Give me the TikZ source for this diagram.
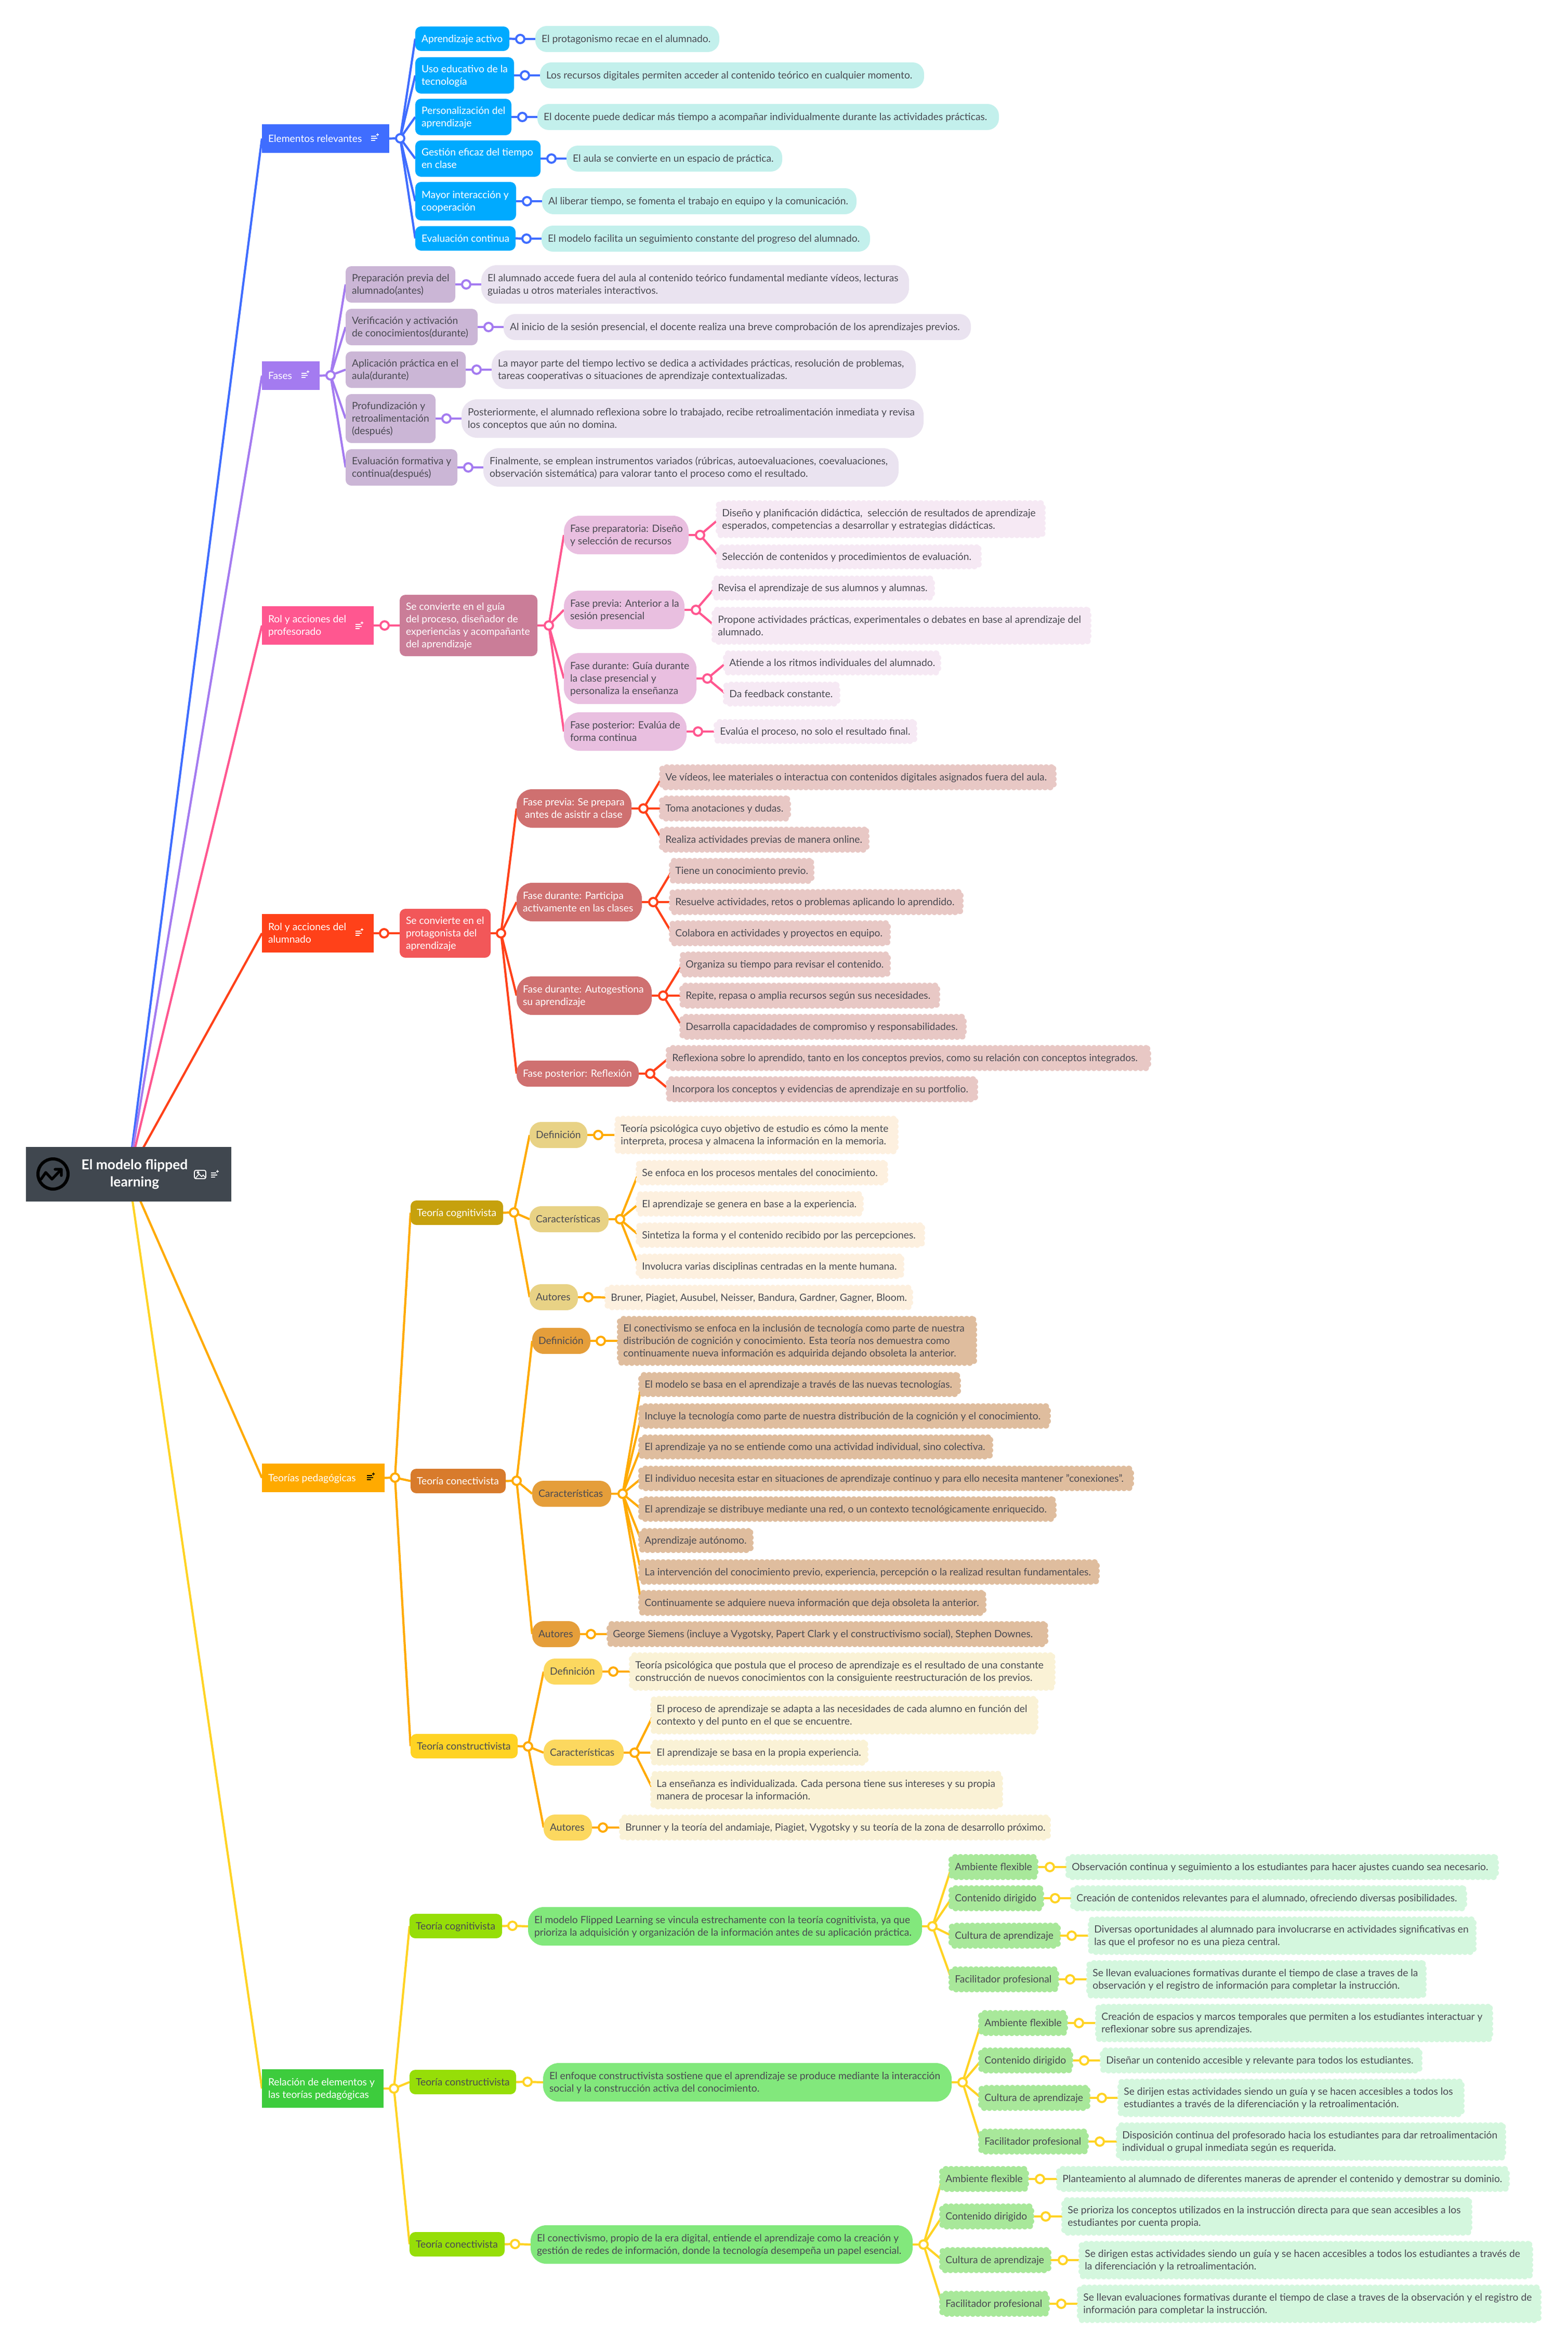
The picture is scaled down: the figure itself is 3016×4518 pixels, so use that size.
\documentclass[tikz,border=0pt]{standalone}
\usepackage{fontspec}
\setmainfont{Lato}
\usetikzlibrary{shapes.geometric}
\pgfdeclarelayer{bg}
\pgfsetlayers{bg,main}
\definecolor{tx}{HTML}{4A4A52}
\definecolor{cBlue}{HTML}{3F6DFF}\definecolor{cSky}{HTML}{00AAFF}\definecolor{cTeal}{HTML}{C3F0EC}
\definecolor{cPur}{HTML}{A47BF0}\definecolor{cPur2}{HTML}{CBB6D6}\definecolor{cPur3}{HTML}{EAE3F0}
\definecolor{cPink}{HTML}{FF5790}\definecolor{cPink2}{HTML}{CA7D98}\definecolor{cPink3}{HTML}{E9BFE0}\definecolor{cPink4}{HTML}{F6E9F4}
\definecolor{cRed}{HTML}{FF4119}\definecolor{cRed2}{HTML}{F25759}\definecolor{cRed3}{HTML}{CF7070}\definecolor{cRed4}{HTML}{E8C8C5}
\definecolor{cOr}{HTML}{FFAA00}\definecolor{cGold}{HTML}{C6A10D}\definecolor{cGold2}{HTML}{E8D285}\definecolor{cGold3}{HTML}{FDF0DF}
\definecolor{cBro}{HTML}{D87B2C}\definecolor{cBro2}{HTML}{E59E3A}\definecolor{cBro3}{HTML}{DFBD9E}
\definecolor{cYel}{HTML}{FFD324}\definecolor{cYel2}{HTML}{FCD85F}\definecolor{cYel3}{HTML}{FAF2D6}
\definecolor{cGrn}{HTML}{3DCC3D}\definecolor{cLime}{HTML}{96DE08}\definecolor{cGrn2}{HTML}{82E87C}\definecolor{cGrn3}{HTML}{A8E89A}\definecolor{cGrn4}{HTML}{D4F7DE}
\definecolor{cRoot}{HTML}{40474F}
\newcommand\nf{\fontsize{9.65}{12}\selectfont}
\def\mnpad{6}
\newcommand\mn[7]{%
  \pgfmathsetmacro\mnw{(#5-#3)*0.5}\pgfmathsetmacro\mnh{(#6-#4)*0.5}%
  \node[base,#2,minimum width=\mnw pt,minimum height=\mnh pt] (#1) at ({(#3+#5)/2},{(#4+#6)/2})
    {\makebox[\mnw pt][l]{\hspace{\mnpad pt}\raisebox{-3.4pt}[0pt][0pt]{\begin{tabular}[c]{@{}l@{}}#7\end{tabular}}}};}
\newcommand\sn[7]{{\def\mnpad{3.2}\pgfmathsetmacro\xa{#3+6}\pgfmathsetmacro\ya{#4+6}\pgfmathsetmacro\xb{#5-6}\pgfmathsetmacro\yb{#6-6}%
  \mn{#1}{scal=#2}{\xa}{\ya}{\xb}{\yb}{#7}}}
\newcommand\jn[4]{\node[jct,draw=#2] (#1) at (#3,#4) {};}
\newcommand\fan[4]{\draw[lk,draw=#1] (#2.east) -- (#3.center);
  \foreach \c in {#4} {\draw[lk,draw=#1] (#3.center) -- (\c.west);}}
\newcommand\lico[3]{\draw[#3,line width=0.9pt] (#1-7,#2-2) -- (#1+3,#2-2) (#1-7,#2+2) -- (#1+5,#2+2) (#1-7,#2+6) -- (#1+1,#2+6) (#1+3,#2-5) -- (#1+8,#2-5) (#1+5.5,#2-8) -- (#1+5.5,#2-2);}
\tikzset{
  base/.style={inner sep=0pt,outer sep=0pt,font=\nf,text=tx,rectangle},
  box/.style={fill=#1,text=white},
  soft/.style={fill=#1,rounded corners=5.5pt},
  pill/.style={fill=#1,rounded corners=11pt},
  big/.style={fill=#1,rounded corners=15pt},
  scal/.style={fill=#1,draw=#1,rounded corners=2pt,line width=6pt,dash pattern=on 0pt off 5pt,line cap=round},
  jct/.style={circle,inner sep=0pt,outer sep=0pt,minimum size=8pt,fill=white,line width=2pt},
  lk/.style={line width=2.1pt},
}
\begin{document}
\begin{tikzpicture}[x=0.5pt,y=-0.5pt]
\useasboundingbox (0,0) rectangle (3016,4518);
% root
\node[rectangle,fill=cRoot,inner sep=0pt,outer sep=0pt,minimum width=197.5pt,minimum height=52.5pt] (root) at (247.5,2258.5) {};
\node[text=white,inner sep=0pt,align=center,font=\fontsize{13.2}{16.5}\selectfont\bfseries] (roottxt) at (259,2259) {El modelo flipped\\learning};
\node[circle,draw=black,line width=3pt,minimum size=29pt,inner sep=0pt] (rooticon) at (102,2258) {};
\draw[black,line width=2.6pt,line cap=round,line join=round] (79,2268) -- (88,2255) -- (100,2268) -- (118,2249) (106,2249) -- (118,2249) -- (118,2261);
\draw[white,line width=0.9pt,rounded corners=1.5pt] (374,2251) rectangle (396,2267);
\draw[white,line width=0.8pt] (376,2266) -- (383,2258) -- (388,2263) -- (391,2260) -- (395,2265);
\fill[white] (381,2255) circle (2.5);
\lico{413}{2258}{white}

% Elementos relevantes
\mn{el}{box=cBlue}{504}{239}{749}{294}{Elementos relevantes}\lico{721}{264}{white}
\jn{jel}{cBlue}{770}{266}
\mn{el1}{soft=cSky,text=white}{799}{51}{980}{98}{Aprendizaje activo}
\mn{el2}{soft=cSky,text=white}{799}{110}{989}{180}{Uso educativo de la\\tecnología}
\mn{el3}{soft=cSky,text=white}{799}{190}{984}{260}{Personalización del\\aprendizaje}
\mn{el4}{soft=cSky,text=white}{799}{270}{1040}{340}{Gestión eficaz del tiempo\\en clase}
\mn{el5}{soft=cSky,text=white}{799}{350}{993}{424}{Mayor interacción y\\cooperación}
\mn{el6}{soft=cSky,text=white}{799}{435}{992}{482}{Evaluación continua}
\jn{jel1}{cBlue}{1001}{75}\jn{jel2}{cBlue}{1010}{145}\jn{jel3}{cBlue}{1005}{225}\jn{jel4}{cBlue}{1061}{305}\jn{jel5}{cBlue}{1014}{387}\jn{jel6}{cBlue}{1013}{459}
\mn{tl1}{pill=cTeal}{1030}{50}{1384}{100}{El protagonismo recae en el alumnado.}
\mn{tl2}{pill=cTeal}{1039}{120}{1778}{170}{Los recursos digitales permiten acceder al contenido teórico en cualquier momento.}
\mn{tl3}{pill=cTeal}{1034}{200}{1922}{250}{El docente puede dedicar más tiempo a acompañar individualmente durante las actividades prácticas.}
\mn{tl4}{pill=cTeal}{1090}{280}{1505}{330}{El aula se convierte en un espacio de práctica.}
\mn{tl5}{pill=cTeal}{1043}{362}{1648}{412}{Al liberar tiempo, se fomenta el trabajo en equipo y la comunicación.}
\mn{tl6}{pill=cTeal}{1042}{434}{1674}{484}{El modelo facilita un seguimiento constante del progreso del alumnado.}

% Fases
\mn{fa}{box=cPur}{504}{695}{615}{750}{Fases}\lico{587}{720}{white}
\jn{jfa}{cPur}{636}{722}
\mn{fa1}{soft=cPur2}{665}{512}{876}{582}{Preparación previa del\\alumnado(antes)}
\mn{fa2}{soft=cPur2}{665}{594}{919}{664}{Verificación y activación\\de conocimientos(durante)}
\mn{fa3}{soft=cPur2}{665}{676}{896}{746}{Aplicación práctica en el\\aula(durante)}
\mn{fa4}{soft=cPur2}{665}{758}{838}{852}{Profundización y\\retroalimentación\\(después)}
\mn{fa5}{soft=cPur2}{665}{864}{880}{934}{Evaluación formativa y\\continua(después)}
\jn{jfa1}{cPur}{897}{547}\jn{jfa2}{cPur}{940}{629}\jn{jfa3}{cPur}{917}{711}\jn{jfa4}{cPur}{859}{805}\jn{jfa5}{cPur}{901}{899}
\mn{fl1}{big=cPur3}{926}{510}{1749}{584}{El alumnado accede fuera del aula al contenido teórico fundamental mediante vídeos, lecturas\\guiadas u otros materiales interactivos.}
\mn{fl2}{pill=cPur3}{969}{604}{1868}{654}{Al inicio de la sesión presencial, el docente realiza una breve comprobación de los aprendizajes previos.}
\mn{fl3}{big=cPur3}{946}{674}{1762}{748}{La mayor parte del tiempo lectivo se dedica a actividades prácticas, resolución de problemas,\\tareas cooperativas o situaciones de aprendizaje contextualizadas.}
\mn{fl4}{big=cPur3}{888}{768}{1777}{842}{Posteriormente, el alumnado reflexiona sobre lo trabajado, recibe retroalimentación inmediata y revisa\\los conceptos que aún no domina.}
\mn{fl5}{big=cPur3}{930}{862}{1729}{936}{Finalmente, se emplean instrumentos variados (rúbricas, autoevaluaciones, coevaluaciones,\\observación sistemática) para valorar tanto el proceso como el resultado.}

% Rol profesorado
\mn{rp}{box=cPink}{504}{1166}{719}{1240}{Rol y acciones del\\profesorado}\lico{691}{1203}{white}
\jn{jrp}{cPink}{740}{1203}
\mn{rp0}{soft=cPink2,text=white}{769}{1144}{1034}{1262}{Se convierte en el guía\\del proceso, diseñador de\\experiencias y acompañante\\del aprendizaje}
\jn{jrp0}{cPink}{1056}{1203}
\mn{rp1}{big=cPink3}{1085}{992}{1325}{1066}{Fase preparatoria: Diseño\\y selección de recursos}
\mn{rp2}{big=cPink3}{1085}{1136}{1317}{1210}{Fase previa: Anterior a la\\sesión presencial}
\mn{rp3}{big=cPink3}{1085}{1256}{1340}{1354}{Fase durante: Guía durante\\la clase presencial y\\personaliza la enseñanza}
\mn{rp4}{big=cPink3}{1085}{1370}{1321}{1444}{Fase posterior: Evalúa de\\forma continua}
\jn{jrp1}{cPink}{1347}{1029}\jn{jrp2}{cPink}{1339}{1173}\jn{jrp3}{cPink}{1361}{1305}\jn{jrp4}{cPink}{1343}{1407}
\sn{pl1}{cPink4}{1377}{962}{2012}{1035}{Diseño y planificación didáctica,~ selección de resultados de aprendizaje\\esperados, competencias a desarrollar y estrategias didácticas.}
\sn{pl2}{cPink4}{1377}{1047}{1889}{1095}{Selección de contenidos y procedimientos de evaluación.}
\sn{pl3}{cPink4}{1369}{1107}{1799}{1155}{Revisa el aprendizaje de sus alumnos y alumnas.}
\sn{pl4}{cPink4}{1369}{1167}{2100}{1240}{Propone actividades prácticas, experimentales o debates en base al aprendizaje del\\alumnado.}
\sn{pl5}{cPink4}{1391}{1251}{1811}{1299}{Atiende a los ritmos individuales del alumnado.}
\sn{pl6}{cPink4}{1391}{1311}{1617}{1359}{Da feedback constante.}
\sn{pl7}{cPink4}{1373}{1383}{1765}{1431}{Evalúa el proceso, no solo el resultado final.}

% Rol alumnado
\mn{ra}{box=cRed}{504}{1758}{719}{1832}{Rol y acciones del\\alumnado}\lico{691}{1793}{white}
\jn{jra}{cRed}{739}{1795}
\mn{ra0}{soft=cRed2,text=white}{769}{1748}{944}{1842}{Se convierte en el\\protagonista del\\aprendizaje}
\jn{jra0}{cRed}{964}{1795}
\mn{ra1}{big=cRed3,text=white}{994}{1518}{1215}{1592}{Fase previa: Se prepara\\\hspace*{2pt}antes de asistir a clase}
\mn{ra2}{big=cRed3,text=white}{994}{1698}{1235}{1772}{Fase durante: Participa\\activamente en las clases}
\mn{ra3}{big=cRed3,text=white}{994}{1878}{1254}{1952}{Fase durante: Autogestiona\\su aprendizaje}
\mn{ra4}{pill=cRed3,text=white}{994}{2040}{1229}{2090}{Fase posterior: Reflexión}
\jn{jra1}{cRed}{1238}{1555}\jn{jra2}{cRed}{1257}{1735}\jn{jra3}{cRed}{1276}{1915}\jn{jra4}{cRed}{1251}{2065}
\sn{al1}{cRed4}{1268}{1470}{2033}{1520}{Ve vídeos, lee materiales o interactua con contenidos digitales asignados fuera del aula.}
\sn{al2}{cRed4}{1268}{1530}{1522}{1580}{Toma anotaciones y dudas.}
\sn{al3}{cRed4}{1268}{1590}{1673}{1640}{Realiza actividades previas de manera online.}
\sn{al4}{cRed4}{1287}{1650}{1567}{1700}{Tiene un conocimiento previo.}
\sn{al5}{cRed4}{1287}{1710}{1854}{1760}{Resuelve actividades, retos o problemas aplicando lo aprendido.}
\sn{al6}{cRed4}{1287}{1770}{1714}{1820}{Colabora en actividades y proyectos en equipo.}
\sn{al7}{cRed4}{1307}{1830}{1714}{1880}{Organiza su tiempo para revisar el contenido.}
\sn{al8}{cRed4}{1307}{1890}{1809}{1940}{Repite, repasa o amplia recursos según sus necesidades.}
\sn{al9}{cRed4}{1307}{1950}{1860}{2000}{Desarrolla capacidadades de compromiso y responsabilidades.}
\sn{al10}{cRed4}{1281}{2010}{2215}{2060}{Reflexiona sobre lo aprendido, tanto en los conceptos previos, como su relación con conceptos integrados.}
\sn{al11}{cRed4}{1281}{2070}{1882}{2120}{Incorpora los conceptos y evidencias de aprendizaje en su portfolio.}

% Teorías pedagógicas
\mn{te}{box=cOr}{504}{2815}{740}{2870}{Teorías pedagógicas}\lico{713}{2840}{black}
\jn{jte}{cOr}{760}{2842}
\mn{tc}{soft=cGold,text=white}{790}{2309}{968}{2356}{Teoría cognitivista}
\jn{jtc}{cOr}{989}{2332}
\mn{tc1}{pill=cGold2}{1019}{2158}{1130}{2208}{Definición}
\mn{tc2}{pill=cGold2}{1019}{2320}{1171}{2370}{Características}
\mn{tc3}{pill=cGold2}{1019}{2470}{1112}{2520}{Autores}
\jn{jtc1}{cOr}{1151}{2183}\jn{jtc2}{cOr}{1193}{2345}\jn{jtc3}{cOr}{1132}{2495}
\sn{gl1}{cGold3}{1182}{2146}{1729}{2220}{Teoría psicológica cuyo objetivo de estudio es cómo la mente\\interpreta, procesa y almacena la información en la memoria.}
\sn{gl2}{cGold3}{1223}{2231}{1709}{2280}{Se enfoca en los procesos mentales del conocimiento.}
\sn{gl3}{cGold3}{1223}{2291}{1662}{2340}{El aprendizaje se genera en base a la experiencia.}
\sn{gl4}{cGold3}{1223}{2351}{1780}{2400}{Sintetiza la forma y el contenido recibido por las percepciones.}
\sn{gl5}{cGold3}{1223}{2411}{1740}{2460}{Involucra varias disciplinas centradas en la mente humana.}
\sn{gl6}{cGold3}{1163}{2471}{1757}{2520}{Bruner, Piagiet, Ausubel, Neisser, Bandura, Gardner, Gagner, Bloom.}

\mn{tn}{soft=cBro,text=white}{790}{2825}{973}{2872}{Teoría conectivista}
\jn{jtn}{cOr}{994}{2848}
\mn{tn1}{pill=cBro2}{1024}{2554}{1136}{2604}{Definición}
\mn{tn2}{pill=cBro2}{1024}{2848}{1176}{2898}{Características}
\mn{tn3}{pill=cBro2}{1024}{3118}{1116}{3168}{Autores}
\jn{jtn1}{cOr}{1156}{2579}\jn{jtn2}{cOr}{1198}{2873}\jn{jtn3}{cOr}{1137}{3143}
\sn{bl1}{cBro3}{1187}{2531}{1880}{2627}{El conectivismo se enfoca en la inclusión de tecnología como parte de nuestra\\distribución de cognición y conocimiento. Esta teoría nos demuestra como\\continuamente nueva información es adquirida dejando obsoleta la anterior.}
\sn{bl2}{cBro3}{1228}{2639}{1849}{2687}{El modelo se basa en el aprendizaje a través de las nuevas tecnologías.}
\sn{bl3}{cBro3}{1228}{2699}{2022}{2748}{Incluye la tecnología como parte de nuestra distribución de la cognición y el conocimiento.}
\sn{bl4}{cBro3}{1228}{2759}{1911}{2807}{El aprendizaje ya no se entiende como una actividad individual, sino colectiva.}
\sn{bl5}{cBro3}{1228}{2819}{2182}{2868}{El individuo necesita estar en situaciones de aprendizaje continuo y para ello necesita mantener "conexiones".}
\sn{bl6}{cBro3}{1228}{2878}{2033}{2927}{El aprendizaje se distribuye mediante una red, o un contexto tecnológicamente enriquecido.}
\sn{bl7}{cBro3}{1228}{2939}{1450}{2987}{Aprendizaje autónomo.}
\sn{bl8}{cBro3}{1228}{2999}{2116}{3048}{La intervención del conocimiento previo, experiencia, percepción o la realizad resultan fundamentales.}
\sn{bl9}{cBro3}{1228}{3058}{1898}{3108}{Continuamente se adquiere nueva información que deja obsoleta la anterior.}
\sn{bl10}{cBro3}{1167}{3118}{2017}{3168}{George Siemens (incluye a Vygotsky, Papert Clark y el constructivismo social), Stephen Downes.}

\mn{tk}{soft=cYel}{790}{3335}{996}{3382}{Teoría constructivista}
\jn{jtk}{cOr}{1016}{3359}
\mn{tk1}{pill=cYel2}{1046}{3190}{1159}{3240}{Definición}
\mn{tk2}{pill=cYel2}{1046}{3346}{1200}{3396}{Características}
\mn{tk3}{pill=cYel2}{1046}{3490}{1139}{3540}{Autores}
\jn{jtk1}{cOr}{1180}{3215}\jn{jtk2}{cOr}{1221}{3371}\jn{jtk3}{cOr}{1160}{3515}
\sn{yl1}{cYel3}{1210}{3178}{2031}{3252}{Teoría psicológica que postula que el proceso de aprendizaje es el resultado de una constante\\construcción de nuevos conocimientos con la consiguiente reestructuración de los previos.}
\sn{yl2}{cYel3}{1251}{3262}{1998}{3336}{El proceso de aprendizaje se adapta a las necesidades de cada alumno en función del\\contexto y del punto en el que se encuentre.}
\sn{yl3}{cYel3}{1251}{3346}{1671}{3396}{El aprendizaje se basa en la propia experiencia.}
\sn{yl4}{cYel3}{1251}{3406}{1930}{3480}{La enseñanza es individualizada. Cada persona tiene sus intereses y su propia\\manera de procesar la información.}
\sn{yl5}{cYel3}{1191}{3490}{2022}{3540}{Brunner y la teoría del andamiaje, Piagiet, Vygotsky y su teoría de la zona de desarrollo próximo.}

% Relación
\mn{re}{box=cGrn}{504}{3980}{738}{4054}{Relación de elementos y\\las teorías pedagógicas}
\jn{jre}{cYel}{758}{4017}
\mn{r1}{soft=cLime}{788}{3681}{966}{3728}{Teoría cognitivista}
\mn{r2}{soft=cLime}{788}{3981}{993}{4028}{Teoría constructivista}
\mn{r3}{soft=cLime}{788}{4293}{971}{4340}{Teoría conectivista}
\jn{jr1}{cYel}{986}{3704}\jn{jr2}{cYel}{1015}{4004}\jn{jr3}{cYel}{991}{4316}
\mn{r10}{big=cGrn2}{1016}{3668}{1774}{3742}{El modelo Flipped Learning se vincula estrechamente con la teoría cognitivista, ya que\\prioriza la adquisición y organización de la información antes de su aplicación práctica.}
\mn{r20}{big=cGrn2}{1045}{3968}{1831}{4042}{El enfoque constructivista sostiene que el aprendizaje se produce mediante la interacción\\social y la construcción activa del conocimiento.}
\mn{r30}{big=cGrn2}{1021}{4280}{1756}{4354}{El conectivismo, propio de la era digital, entiende el aprendizaje como la creación y\\gestión de redes de información, donde la tecnología desempeña un papel esencial.}
\jn{jr10}{cYel}{1794}{3705}\jn{jr20}{cYel}{1852}{4005}\jn{jr30}{cYel}{1777}{4317}

\sn{a1}{cGrn3}{1825}{3566}{1998}{3616}{Ambiente flexible}
\sn{a2}{cGrn3}{1825}{3626}{2009}{3676}{Contenido dirigido}
\sn{a3}{cGrn3}{1825}{3698}{2041}{3748}{Cultura de aprendizaje}
\sn{a4}{cGrn3}{1825}{3782}{2038}{3832}{Facilitador profesional}
\jn{ja1}{cYel}{2020}{3591}\jn{ja2}{cYel}{2030}{3651}\jn{ja3}{cYel}{2062}{3723}\jn{ja4}{cYel}{2059}{3807}
\sn{al1x}{cGrn4}{2050}{3566}{2884}{3616}{Observación continua y seguimiento a los estudiantes para hacer ajustes cuando sea necesario.}
\sn{al2x}{cGrn4}{2059}{3626}{2823}{3676}{Creación de contenidos relevantes para el alumnado, ofreciendo diversas posibilidades.}
\sn{al3x}{cGrn4}{2093}{3686}{2841}{3760}{Diversas oportunidades al alumnado para involucrarse en actividades significativas en\\las que el profesor no es una pieza central.}
\sn{al4x}{cGrn4}{2090}{3770}{2745}{3844}{Se llevan evaluaciones formativas durante el tiempo de clase a traves de la\\observación y el registro de información para completar la instrucción.}

\sn{b1}{cGrn3}{1882}{3866}{2055}{3916}{Ambiente flexible}
\sn{b2}{cGrn3}{1882}{3938}{2065}{3988}{Contenido dirigido}
\sn{b3}{cGrn3}{1882}{4010}{2098}{4060}{Cultura de aprendizaje}
\sn{b4}{cGrn3}{1882}{4094}{2095}{4144}{Facilitador profesional}
\jn{jb1}{cYel}{2076}{3891}\jn{jb2}{cYel}{2086}{3963}\jn{jb3}{cYel}{2120}{4035}\jn{jb4}{cYel}{2116}{4119}
\sn{bl1x}{cGrn4}{2107}{3854}{2873}{3928}{Creación de espacios y marcos temporales que permiten a los estudiantes interactuar y\\reflexionar sobre sus aprendizajes.}
\sn{bl2x}{cGrn4}{2116}{3938}{2737}{3988}{Diseñar un contenido accesible y relevante para todos los estudiantes.}
\sn{bl3x}{cGrn4}{2150}{3998}{2818}{4072}{Se dirijen estas actividades siendo un guía y se hacen accesibles a todos los\\estudiantes a través de la diferenciación y la retroalimentación.}
\sn{bl4x}{cGrn4}{2147}{4082}{2898}{4156}{Disposición continua del profesorado hacia los estudiantes para dar retroalimentación\\individual o grupal inmediata según es requerida.}

\sn{c1}{cGrn3}{1807}{4166}{1980}{4216}{Ambiente flexible}
\sn{c2}{cGrn3}{1807}{4238}{1990}{4288}{Contenido dirigido}
\sn{c3}{cGrn3}{1807}{4322}{2023}{4372}{Cultura de aprendizaje}
\sn{c4}{cGrn3}{1807}{4406}{2020}{4456}{Facilitador profesional}
\jn{jc1}{cYel}{2001}{4191}\jn{jc2}{cYel}{2012}{4263}\jn{jc3}{cYel}{2045}{4347}\jn{jc4}{cYel}{2042}{4431}
\sn{cl1x}{cGrn4}{2032}{4166}{2905}{4216}{Planteamiento al alumnado de diferentes maneras de aprender el contenido y demostrar su dominio.}
\sn{cl2x}{cGrn4}{2042}{4226}{2833}{4300}{Se prioriza los conceptos utilizados en la instrucción directa para que sean accesibles a los\\estudiantes por cuenta propia.}
\sn{cl3x}{cGrn4}{2075}{4310}{2950}{4384}{Se dirigen estas actividades siendo un guía y se hacen accesibles a todos los estudiantes a través de\\la diferenciación y la retroalimentación.}
\sn{cl4x}{cGrn4}{2072}{4394}{2966}{4468}{Se llevan evaluaciones formativas durante el tiempo de clase a traves de la observación y el registro de\\información para completar la instrucción.}

\begin{pgfonlayer}{bg}
\foreach \c/\k in {el/cBlue,fa/cPur,rp/cPink,ra/cRed,te/cOr,re/cYel} {\draw[lk,draw=\k] (root.center) -- (\c.west);}
\fan{cBlue}{el}{jel}{el1,el2,el3,el4,el5,el6}
\fan{cBlue}{el1}{jel1}{tl1}\fan{cBlue}{el2}{jel2}{tl2}\fan{cBlue}{el3}{jel3}{tl3}\fan{cBlue}{el4}{jel4}{tl4}\fan{cBlue}{el5}{jel5}{tl5}\fan{cBlue}{el6}{jel6}{tl6}
\fan{cPur}{fa}{jfa}{fa1,fa2,fa3,fa4,fa5}
\fan{cPur}{fa1}{jfa1}{fl1}\fan{cPur}{fa2}{jfa2}{fl2}\fan{cPur}{fa3}{jfa3}{fl3}\fan{cPur}{fa4}{jfa4}{fl4}\fan{cPur}{fa5}{jfa5}{fl5}
\fan{cPink}{rp}{jrp}{rp0}\fan{cPink}{rp0}{jrp0}{rp1,rp2,rp3,rp4}
\fan{cPink}{rp1}{jrp1}{pl1,pl2}\fan{cPink}{rp2}{jrp2}{pl3,pl4}\fan{cPink}{rp3}{jrp3}{pl5,pl6}\fan{cPink}{rp4}{jrp4}{pl7}
\fan{cRed}{ra}{jra}{ra0}\fan{cRed}{ra0}{jra0}{ra1,ra2,ra3,ra4}
\fan{cRed}{ra1}{jra1}{al1,al2,al3}\fan{cRed}{ra2}{jra2}{al4,al5,al6}\fan{cRed}{ra3}{jra3}{al7,al8,al9}\fan{cRed}{ra4}{jra4}{al10,al11}
\fan{cOr}{te}{jte}{tc,tn,tk}
\fan{cOr}{tc}{jtc}{tc1,tc2,tc3}\fan{cOr}{tc1}{jtc1}{gl1}\fan{cOr}{tc2}{jtc2}{gl2,gl3,gl4,gl5}\fan{cOr}{tc3}{jtc3}{gl6}
\fan{cOr}{tn}{jtn}{tn1,tn2,tn3}\fan{cOr}{tn1}{jtn1}{bl1}\fan{cOr}{tn2}{jtn2}{bl2,bl3,bl4,bl5,bl6,bl7,bl8,bl9}\fan{cOr}{tn3}{jtn3}{bl10}
\fan{cOr}{tk}{jtk}{tk1,tk2,tk3}\fan{cOr}{tk1}{jtk1}{yl1}\fan{cOr}{tk2}{jtk2}{yl2,yl3,yl4}\fan{cOr}{tk3}{jtk3}{yl5}
\fan{cYel}{re}{jre}{r1,r2,r3}
\fan{cYel}{r1}{jr1}{r10}\fan{cYel}{r2}{jr2}{r20}\fan{cYel}{r3}{jr3}{r30}
\fan{cYel}{r10}{jr10}{a1,a2,a3,a4}\fan{cYel}{r20}{jr20}{b1,b2,b3,b4}\fan{cYel}{r30}{jr30}{c1,c2,c3,c4}
\fan{cYel}{a1}{ja1}{al1x}\fan{cYel}{a2}{ja2}{al2x}\fan{cYel}{a3}{ja3}{al3x}\fan{cYel}{a4}{ja4}{al4x}
\fan{cYel}{b1}{jb1}{bl1x}\fan{cYel}{b2}{jb2}{bl2x}\fan{cYel}{b3}{jb3}{bl3x}\fan{cYel}{b4}{jb4}{bl4x}
\fan{cYel}{c1}{jc1}{cl1x}\fan{cYel}{c2}{jc2}{cl2x}\fan{cYel}{c3}{jc3}{cl3x}\fan{cYel}{c4}{jc4}{cl4x}
\end{pgfonlayer}
\end{tikzpicture}
\end{document}
